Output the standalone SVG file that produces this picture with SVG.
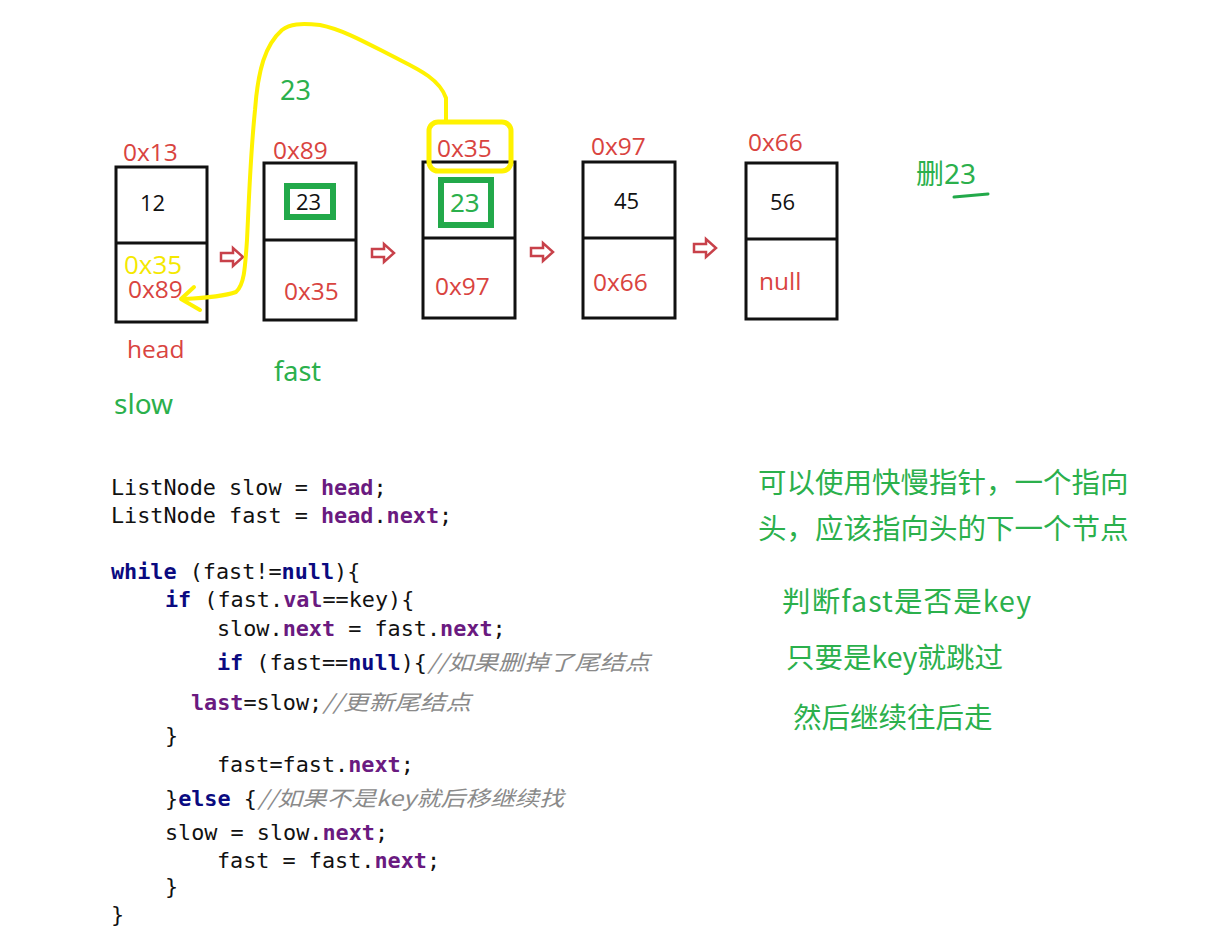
<svg xmlns="http://www.w3.org/2000/svg" width="1228" height="938" viewBox="0 0 1228 938">
<defs>
<style>
.box{fill:#fff;stroke:#111;stroke-width:3}
.div{stroke:#111;stroke-width:3}
.addr{font-family:"Open Sans","Liberation Sans",sans-serif;font-size:24.5px;fill:#d9443f}
.val{font-family:"Open Sans","Liberation Sans",sans-serif;font-size:22px;fill:#111}
.grn{font-family:"Noto Sans","Noto Sans CJK SC",sans-serif;fill:#2bb04c}
.arr{fill:#fff;stroke:#c8414a;stroke-width:2.5;stroke-linejoin:miter}
.code{font-family:"DejaVu Sans Mono","Liberation Mono",monospace;font-size:21.8px;fill:#111}
.kw{fill:#0a0a80;font-weight:bold}
.fd{fill:#6a1a80;font-weight:bold}
.cm{fill:#8a8a8a;font-style:italic;font-family:"Noto Sans CJK SC","DejaVu Sans",sans-serif;font-size:21px}
.note{font-family:"Noto Sans CJK SC","Noto Sans",sans-serif;fill:#2bb04c;font-size:28.5px}
</style>
<path id="blk" d="M0,-4 L12,-4 L12,-9 L22,0 L12,9 L12,4 L0,4 Z"/>
</defs>

<g id="node-0x13">
<rect class="box" x="116" y="167" width="91" height="155"/>
<line class="div" x1="116" y1="243" x2="207" y2="243"/>
<text class="addr" x="123" y="161">0x13</text>
<text class="val" x="140" y="211">12</text>
<text class="addr" x="124" y="274" style="fill:#f4e800;font-size:26px">0x35</text>
<text class="addr" x="128" y="298">0x89</text>
<text class="addr" x="127" y="358">head</text>
</g>

<g id="node-0x89">
<rect class="box" x="264" y="163" width="92" height="157"/>
<line class="div" x1="264" y1="240" x2="356" y2="240"/>
<text class="addr" x="273" y="159">0x89</text>
<rect x="287" y="186" width="46" height="31" fill="#fff" stroke="#22a94a" stroke-width="6"/>
<text class="val" x="296" y="210">23</text>
<text class="addr" x="284" y="300">0x35</text>
<text class="grn" x="274" y="381" font-size="27">fast</text>
</g>

<g id="node-0x35">
<rect class="box" x="423" y="162" width="92" height="156"/>
<line class="div" x1="423" y1="238" x2="515" y2="238"/>
<text class="addr" x="437" y="157">0x35</text>
<rect x="429" y="122" width="82" height="49" rx="9" fill="none" stroke="#fff200" stroke-width="5"/>
<rect x="441" y="180" width="50" height="45" fill="#fff" stroke="#22a94a" stroke-width="6"/>
<text class="grn" x="450" y="212" font-size="26">23</text>
<text class="addr" x="435" y="295">0x97</text>
</g>

<g id="node-0x97">
<rect class="box" x="583" y="162" width="92" height="156"/>
<line class="div" x1="583" y1="238" x2="675" y2="238"/>
<text class="addr" x="591" y="155">0x97</text>
<text class="val" x="614" y="209">45</text>
<text class="addr" x="593" y="291">0x66</text>
</g>

<g id="node-0x66">
<rect class="box" x="746" y="163" width="91" height="156"/>
<line class="div" x1="746" y1="239" x2="837" y2="239"/>
<text class="addr" x="748" y="151">0x66</text>
<text class="val" x="770" y="210">56</text>
<text class="addr" x="759" y="290">null</text>
</g>

<g id="labels">
<text class="grn" x="280" y="100" font-size="27">23</text>
<text class="grn" x="114" y="414" font-size="28">slow</text>
<text class="grn" x="916" y="184" font-size="28">删23</text>
<path d="M954,197 L988,194" stroke="#22a94a" stroke-width="3" fill="none" stroke-linecap="round"/>
</g>

<g id="connectors">
<use href="#blk" class="arr" x="221" y="257"/>
<use href="#blk" class="arr" x="372" y="253"/>
<use href="#blk" class="arr" x="531" y="252"/>
<use href="#blk" class="arr" x="694" y="248"/>
<path d="M446,120 L446,98 C440,80 420,70 400,60 C370,45 345,30 320,25 C300,23 290,24 282,30 C265,45 258,70 255,110 C250,160 249,200 247,240 C245,270 244,285 236,292 C225,296 205,298 184,299" fill="none" stroke="#fff200" stroke-width="4" stroke-linecap="round" stroke-linejoin="round"/>
<path d="M194,287 L181,299 L200,310" fill="none" stroke="#fff200" stroke-width="4" stroke-linecap="round" stroke-linejoin="round"/>
</g>

<g id="code" class="code">
<text x="111" y="495" xml:space="preserve">ListNode slow = <tspan class="fd">head</tspan>;</text>
<text x="111" y="523" xml:space="preserve">ListNode fast = <tspan class="fd">head</tspan>.<tspan class="fd">next</tspan>;</text>
<text x="111" y="579" xml:space="preserve"><tspan class="kw">while</tspan> (fast!=<tspan class="kw">null</tspan>){</text>
<text x="165" y="607" xml:space="preserve"><tspan class="kw">if</tspan> (fast.<tspan class="fd">val</tspan>==key){</text>
<text x="217" y="636" xml:space="preserve">slow.<tspan class="fd">next</tspan> = fast.<tspan class="fd">next</tspan>;</text>
<text x="217" y="670" xml:space="preserve"><tspan class="kw">if</tspan> (fast==<tspan class="kw">null</tspan>){</text>
<text class="cm" x="428" y="670" textLength="222" lengthAdjust="spacingAndGlyphs">//如果删掉了尾结点</text>
<text x="191" y="710" xml:space="preserve"><tspan class="fd">last</tspan>=slow;</text>
<text class="cm" x="323" y="710" textLength="148" lengthAdjust="spacingAndGlyphs">//更新尾结点</text>
<text x="165" y="743">}</text>
<text x="217" y="772" xml:space="preserve">fast=fast.<tspan class="fd">next</tspan>;</text>
<text x="165" y="806" xml:space="preserve">}<tspan class="kw">else</tspan> {</text>
<text class="cm" x="258" y="806" textLength="306" lengthAdjust="spacingAndGlyphs">//如果不是key就后移继续找</text>
<text x="165" y="840" xml:space="preserve">slow = slow.<tspan class="fd">next</tspan>;</text>
<text x="217" y="868" xml:space="preserve">fast = fast.<tspan class="fd">next</tspan>;</text>
<text x="165" y="894">}</text>
<text x="111" y="922">}</text>
</g>

<g id="notes">
<text class="note" x="758" y="493">可以使用快慢指针，一个指向</text>
<text class="note" x="758" y="539">头，应该指向头的下一个节点</text>
<text class="note" x="782" y="612" textLength="249" lengthAdjust="spacing">判断fast是否是key</text>
<text class="note" x="786" y="668">只要是key就跳过</text>
<text class="note" x="793" y="728">然后继续往后走</text>
</g>
</svg>
